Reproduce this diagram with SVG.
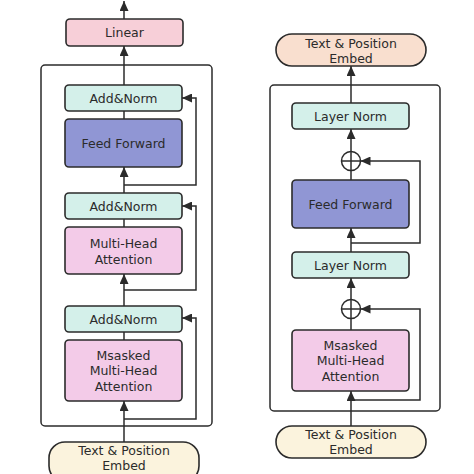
<svg xmlns="http://www.w3.org/2000/svg" width="474" height="474" viewBox="0 0 474 474">
<defs>
<marker id="ah" markerUnits="userSpaceOnUse" markerWidth="10" markerHeight="9" refX="10" refY="4.5" orient="auto">
<path d="M0,0 L10,4.5 L0,9 z" fill="#2b2b2b"/>
</marker>
<style>
.b{stroke:#2b2b2b;stroke-width:1.6}
.t{font-family:"DejaVu Sans","Noto Sans",sans-serif;font-size:12.5px;fill:#2b2b2b;text-anchor:middle}
.c{fill:none;stroke:#2b2b2b;stroke-width:1.5}
.a{fill:none;stroke:#2b2b2b;stroke-width:1.5;marker-end:url(#ah)}
.norm{fill:#d4f0ea}
.ff{fill:#9096d4}
.mha{fill:#f3cbe8}
.lin{fill:#f7cfd8}
.emb{fill:#fbf3dd}
.emb2{fill:#f9dfcf}
</style>
</defs>
<rect width="474" height="474" fill="#fff"/>

<g id="left-frame"><rect x="41" y="65" width="171" height="361" rx="4" class="c"/></g>
<g id="right-frame"><rect x="270" y="85" width="170" height="326" rx="4" class="c"/></g>

<g id="connectors">
<line x1="124" y1="19" x2="124" y2="1" class="a"/>
<line x1="124" y1="85" x2="124" y2="46" class="a"/>
<line x1="124" y1="111" x2="124" y2="119" class="c"/>
<line x1="124" y1="193" x2="124" y2="167" class="a"/>
<polyline points="124,185 196,185 196,98 182,98" class="a"/>
<line x1="124" y1="219" x2="124" y2="227" class="c"/>
<line x1="124" y1="306" x2="124" y2="274" class="a"/>
<polyline points="124,290 196,290 196,206 182,206" class="a"/>
<line x1="124" y1="332" x2="124" y2="340" class="c"/>
<line x1="124" y1="442" x2="124" y2="401" class="a"/>
<polyline points="124,419 196,419 196,318 182,318" class="a"/>
<line x1="351" y1="103" x2="351" y2="66" class="a"/>
<line x1="351" y1="151.5" x2="351" y2="129" class="a"/>
<line x1="351" y1="180" x2="351" y2="170.5" class="c"/>
<polyline points="351,243 420,243 420,161 360.5,161" class="a"/>
<line x1="351" y1="252" x2="351" y2="228" class="a"/>
<line x1="351" y1="299.5" x2="351" y2="278" class="a"/>
<line x1="351" y1="330" x2="351" y2="318.5" class="c"/>
<polyline points="351,400 420,400 420,309 360.5,309" class="a"/>
<line x1="351" y1="426" x2="351" y2="391" class="a"/>
</g>

<g id="linear"><rect x="66" y="19" width="117" height="27" rx="4" class="b lin"/><text x="124.5" y="37" class="t">Linear</text></g>
<g id="addnorm1"><rect x="65" y="85" width="117" height="26" rx="4" class="b norm"/><text x="123.5" y="102.5" class="t">Add&amp;Norm</text></g>
<g id="ff-left"><rect x="65" y="119" width="117" height="48" rx="4" class="b ff"/><text x="123.5" y="147.5" class="t">Feed Forward</text></g>
<g id="addnorm2"><rect x="65" y="193" width="117" height="26" rx="4" class="b norm"/><text x="123.5" y="210.5" class="t">Add&amp;Norm</text></g>
<g id="mha-left"><rect x="65" y="227" width="117" height="47" rx="4" class="b mha"/><text class="t"><tspan x="123.5" y="248">Multi-Head</tspan><tspan x="123.5" dy="15.5">Attention</tspan></text></g>
<g id="addnorm3"><rect x="65" y="306" width="117" height="26" rx="4" class="b norm"/><text x="123.5" y="323.5" class="t">Add&amp;Norm</text></g>
<g id="mmha-left"><rect x="65" y="340" width="117" height="61" rx="4" class="b mha"/><text class="t"><tspan x="123.5" y="359.5">Msasked</tspan><tspan x="123.5" dy="15.5">Multi-Head</tspan><tspan x="123.5" dy="15.5">Attention</tspan></text></g>
<g id="embed-left"><rect x="49" y="442" width="150" height="40" rx="16" class="b emb"/><text class="t"><tspan x="124" y="454.5">Text &amp; Position</tspan><tspan x="124" dy="15.5">Embed</tspan></text></g>

<g id="embed-top-right"><rect x="276" y="34" width="150" height="32" rx="16" class="b emb2"/><text class="t"><tspan x="351" y="47.5">Text &amp; Position</tspan><tspan x="351" dy="15.2">Embed</tspan></text></g>
<g id="layernorm1"><rect x="292" y="103" width="117" height="26" rx="4" class="b norm"/><text x="350.5" y="120.5" class="t">Layer Norm</text></g>
<g id="add1"><circle cx="351" cy="161" r="9.5" class="c"/><line x1="341.5" y1="161" x2="360.5" y2="161" class="c"/><line x1="351" y1="151.5" x2="351" y2="170.5" class="c"/></g>
<g id="ff-right"><rect x="292" y="180" width="117" height="48" rx="4" class="b ff"/><text x="350.5" y="208.5" class="t">Feed Forward</text></g>
<g id="layernorm2"><rect x="292" y="252" width="117" height="26" rx="4" class="b norm"/><text x="350.5" y="269.5" class="t">Layer Norm</text></g>
<g id="add2"><circle cx="351" cy="309" r="9.5" class="c"/><line x1="341.5" y1="309" x2="360.5" y2="309" class="c"/><line x1="351" y1="299.5" x2="351" y2="318.5" class="c"/></g>
<g id="mmha-right"><rect x="292" y="330" width="117" height="61" rx="4" class="b mha"/><text class="t"><tspan x="350.5" y="349.5">Msasked</tspan><tspan x="350.5" dy="15.5">Multi-Head</tspan><tspan x="350.5" dy="15.5">Attention</tspan></text></g>
<g id="embed-bottom-right"><rect x="276" y="426" width="150" height="32" rx="16" class="b emb"/><text class="t"><tspan x="351" y="439">Text &amp; Position</tspan><tspan x="351" dy="15.2">Embed</tspan></text></g>
</svg>
